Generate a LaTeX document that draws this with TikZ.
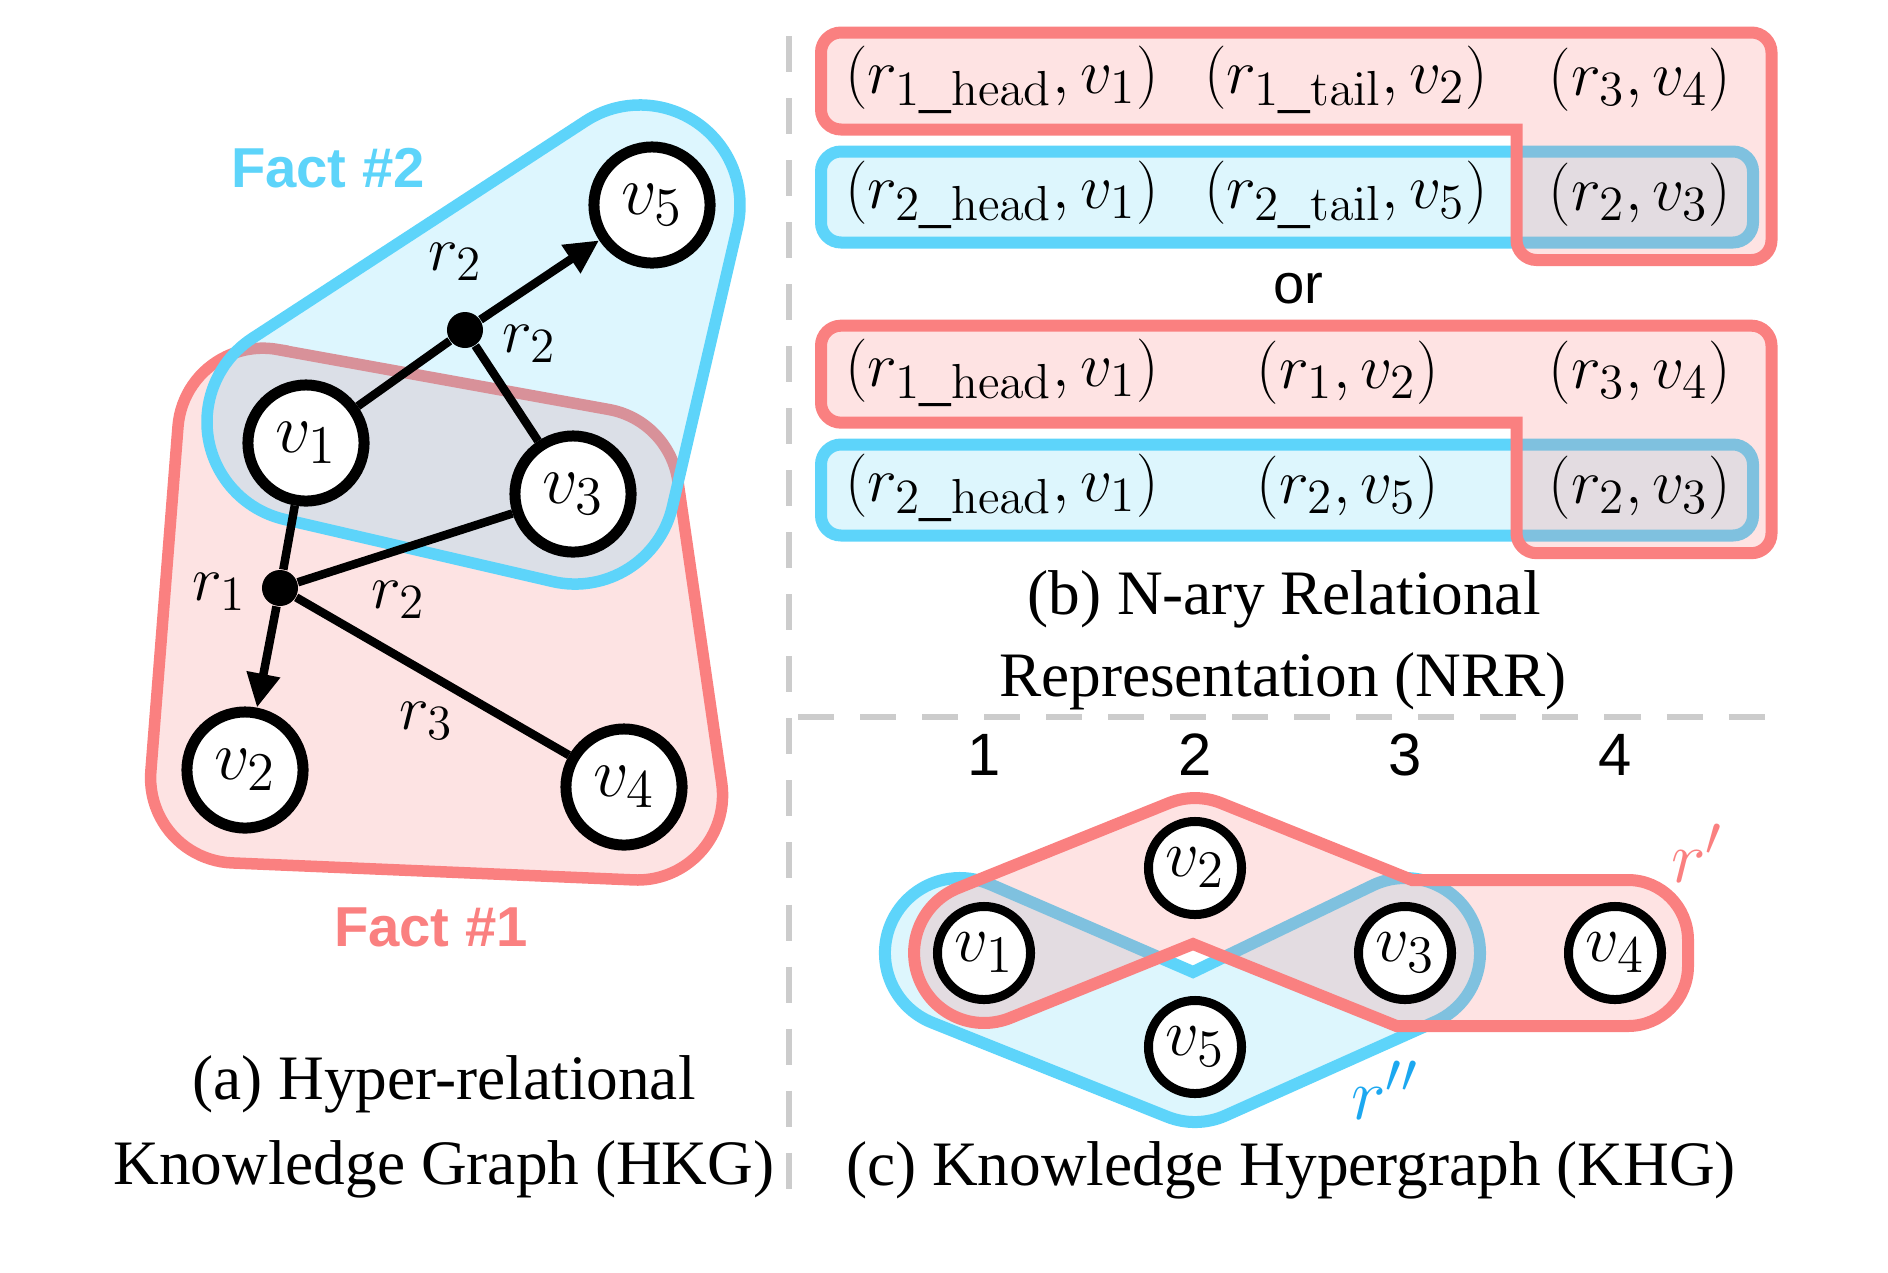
\RequirePackage{fix-cm}
\documentclass[tikz,border=0pt]{standalone}
\usepackage[no-math]{fontspec}
\setmainfont{Liberation Serif}
\newfontfamily\sansf{Liberation Sans}
\usetikzlibrary{arrows.meta}
\DeclareMathSizes{18}{18}{14}{10}
\DeclareMathSizes{19}{19}{15}{11}
\DeclareMathSizes{20}{20}{15.5}{12}
\DeclareMathSizes{21}{21}{16}{12}
\definecolor{redS}{RGB}{250,128,128}
\definecolor{redF}{RGB}{253,227,227}
\definecolor{bluS}{RGB}{93,212,250}
\definecolor{bluF}{RGB}{221,246,253}
\definecolor{dashG}{RGB}{204,204,204}
\definecolor{rppC}{RGB}{28,168,240}
\begin{document}
\begin{tikzpicture}[x=0.01cm,y=0.01cm,
  regRbot/.style={draw=redS, fill=redF, line width=0.115cm},
  regBtop/.style={draw=bluS, fill=bluS, fill opacity=0.21, line width=0.115cm},
  regBbot/.style={draw=bluS, fill=bluF, line width=0.12cm},
  regRtop/.style={draw=redS, fill=redS, fill opacity=0.22, line width=0.12cm},
  vnode/.style={circle, draw=black, fill=white, line width=0.11cm, minimum size=1.16cm, inner sep=0pt, font=\fontsize{20}{22}\selectfont},
  vsm/.style={vnode, line width=0.09cm, minimum size=0.93cm, font=\fontsize{19}{21}\selectfont},
  dotn/.style={circle, fill=black, minimum size=0.36cm, inner sep=0pt},
  lnk/.style={line width=0.085cm, draw=black},
  arrlnk/.style={lnk, -{Triangle[length=0.34cm, width=0.32cm]}},
  rlab/.style={font=\fontsize{18}{20}\selectfont, inner sep=0pt},
  tup/.style={font=\fontsize{18}{20}\selectfont, inner sep=0pt},
  facttxt/.style={font=\sansf\bfseries\fontsize{16}{18}\selectfont, inner sep=0pt},
  numtxt/.style={font=\sansf\fontsize{17}{20}\selectfont, inner sep=0pt},
  captxt/.style={font=\fontsize{18}{22}\selectfont, inner sep=0pt, anchor=base},
  sepline/.style={draw=dashG, line width=0.06cm, dash pattern=on 0.36cm off 0.26cm}
]
\useasboundingbox (0,0) rectangle (1888,-1272);

% separators
\coordinate (s1) at (789,-36);
\coordinate (s2) at (789,-1200);
\coordinate (h1) at (798,-717);
\coordinate (h2) at (1781,-717);
\draw[sepline] (s1) -- (s2);
\draw[sepline] (h1) -- (h2);

% ---------------- (a) ----------------
\draw[regRbot] (277.8,-349.6) -- (608.9,-409.5) arc[start angle=79.75,end angle=8.25,radius=85]
  -- (721.7,-782.8) arc[start angle=8.25,end angle=-92.42,radius=85]
  -- (232.0,-862.9) arc[start angle=-92.42,end angle=-184.5,radius=85]
  -- (178.0,-426.5) arc[start angle=175.5,end angle=79.75,radius=85] -- cycle;
\draw[regBtop] (252.4,-338.2) -- (585.4,-121.2) arc[start angle=123.1,end angle=-13.1,radius=100]
  -- (672.4,-506.7) arc[start angle=-13.1,end angle=-103,radius=100]
  -- (284.5,-519.4) arc[start angle=-103,end angle=-236.9,radius=100] -- cycle;

\node[vnode] (a1) at (306,-443) {$v_1$};
\node[vnode] (a3) at (573,-494) {$v_3$};
\node[vnode] (a5) at (652,-205) {$v_5$};
\node[vnode] (a2) at (245,-770) {$v_2$};
\node[vnode] (a4) at (624,-787) {$v_4$};
\node[dotn] (d1) at (465,-330) {};
\node[dotn] (d2) at (280,-588) {};

\draw[lnk] (a1) -- (d1);
\draw[arrlnk] (d1) -- (a5);
\draw[lnk] (d1) -- (a3);
\draw[lnk] (a1) -- (d2);
\draw[arrlnk] (d2) -- (a2);
\draw[lnk] (a3) -- (d2);
\draw[lnk] (d2) -- (a4);

\node[rlab] (l1) at (455,-262) {$r_2$};
\node[rlab] (l2) at (529,-344) {$r_2$};
\node[rlab] (l3) at (219,-592) {$r_1$};
\node[rlab] (l4) at (398,-600) {$r_2$};
\node[rlab] (l5) at (426,-721) {$r_3$};
\node[facttxt, text=bluS] (f2) at (328,-168) {Fact \#2};
\node[facttxt, text=redS] (f1) at (431,-927) {Fact \#1};

\node[captxt] (ca1) at (444,-1099) {(a) Hyper-relational};
\node[captxt] (ca2) at (444,-1184) {Knowledge Graph (HKG)};

% ---------------- (b) ----------------
\draw[regBbot, rounded corners=0.2cm] (821,-151.5) rectangle (1753,-242.5);
\draw[regBbot, rounded corners=0.2cm] (821,-444.5) rectangle (1753,-535.5);
\draw[regRtop] (841,-32.5) -- (1751.5,-32.5) arc[start angle=90,end angle=0,radius=20]
  -- (1771.5,-240) arc[start angle=0,end angle=-90,radius=20]
  -- (1536.5,-260) arc[start angle=-90,end angle=-180,radius=20]
  -- (1516.5,-129.5) -- (841,-129.5) arc[start angle=-90,end angle=-180,radius=20]
  -- (821,-52.5) arc[start angle=180,end angle=90,radius=20] -- cycle;
\begin{scope}[yshift=-2.93cm]
\draw[regRtop] (841,-32.5) -- (1751.5,-32.5) arc[start angle=90,end angle=0,radius=20]
  -- (1771.5,-240) arc[start angle=0,end angle=-90,radius=20]
  -- (1536.5,-260) arc[start angle=-90,end angle=-180,radius=20]
  -- (1516.5,-129.5) -- (841,-129.5) arc[start angle=-90,end angle=-180,radius=20]
  -- (821,-52.5) arc[start angle=180,end angle=90,radius=20] -- cycle;
\end{scope}

\node[tup] (b11) at (1002,-80) {$(r_{1\_\mathrm{head}}, v_1)$};
\node[tup] (b12) at (1346,-80) {$(r_{1\_\mathrm{tail}}, v_2)$};
\node[tup] (b13) at (1640,-80) {$(r_3, v_4)$};
\node[tup] (b21) at (1002,-195) {$(r_{2\_\mathrm{head}}, v_1)$};
\node[tup] (b22) at (1346,-195) {$(r_{2\_\mathrm{tail}}, v_5)$};
\node[tup] (b23) at (1640,-195) {$(r_2, v_3)$};
\node[numtxt, font=\sansf\fontsize{16}{18}\selectfont] (bor) at (1298,-289) {or};
\node[tup] (b31) at (1002,-373) {$(r_{1\_\mathrm{head}}, v_1)$};
\node[tup] (b32) at (1348,-373) {$(r_1, v_2)$};
\node[tup] (b33) at (1640,-373) {$(r_3, v_4)$};
\node[tup] (b41) at (1002,-488) {$(r_{2\_\mathrm{head}}, v_1)$};
\node[tup] (b42) at (1348,-488) {$(r_2, v_5)$};
\node[tup] (b43) at (1640,-488) {$(r_2, v_3)$};

\node[captxt] (cb1) at (1284,-614) {(b) N-ary Relational};
\node[captxt] (cb2) at (1283,-696) {Representation (NRR)};

% ---------------- (c) ----------------
\draw[regBbot] (989.8,-884.1) -- (1193,-972) -- (1372.4,-885.5) arc[start angle=115.8,end angle=-65.9,radius=75]
  -- (1225.6,-1115.5) arc[start angle=-65.9,end angle=-111.8,radius=75]
  -- (932.1,-1022.6) arc[start angle=-111.8,end angle=-293.4,radius=75] -- cycle;
\draw[regRtop] (957.8,-888.1) -- (1168.8,-803.1) arc[start angle=111.9,end angle=68.1,radius=70]
  -- (1412,-880) -- (1628,-880) arc[start angle=90,end angle=0,radius=60]
  -- (1688,-966) arc[start angle=0,end angle=-90,radius=60]
  -- (1396.5,-1026) -- (1193,-944) -- (1010.2,-1017.9) arc[start angle=-68.1,end angle=-248.1,radius=70] -- cycle;

\node[vsm] (c1) at (984,-953) {$v_1$};
\node[vsm] (c2) at (1195,-868) {$v_2$};
\node[vsm] (c3) at (1405,-953) {$v_3$};
\node[vsm] (c4) at (1615,-953) {$v_4$};
\node[vsm] (c5) at (1195,-1047) {$v_5$};

\node[numtxt] (n1) at (984,-755) {1};
\node[numtxt] (n2) at (1195,-755) {2};
\node[numtxt] (n3) at (1405,-755) {3};
\node[numtxt] (n4) at (1615,-755) {4};

\node[rlab, text=redS, font=\fontsize{21}{23}\selectfont] (rp) at (1697,-853) {$r'$};
\node[rlab, text=rppC, font=\fontsize{21}{23}\selectfont] (rpp) at (1385,-1090) {$r''$};

\node[captxt] (cc) at (1291,-1185) {(c) Knowledge Hypergraph (KHG)};
\end{tikzpicture}
\end{document}
